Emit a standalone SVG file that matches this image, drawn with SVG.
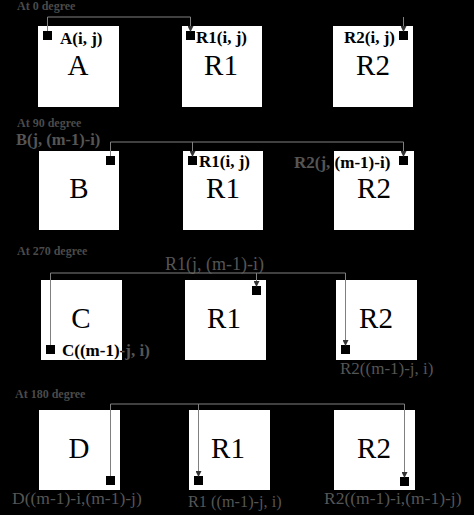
<svg xmlns="http://www.w3.org/2000/svg" width="474" height="515" viewBox="0 0 474 515">
<style>
.box{fill:#fff;stroke:none}
.sq{fill:#000}
.big{font-family:"Liberation Serif",serif;font-size:29px;fill:#000;text-anchor:middle}
.in{font-family:"Liberation Serif",serif;font-size:17px;font-weight:bold;fill:#000}
.out{font-family:"Liberation Serif",serif;font-size:17px;fill:#555}
.outb{font-family:"Liberation Serif",serif;font-size:16.5px;font-weight:bold;fill:#555}
.deg{font-family:"Liberation Serif",serif;font-size:12px;font-weight:bold;fill:#4a4a4a}
.con{fill:none;stroke:#808080;stroke-width:1}
</style>
<defs>
<marker id="arr" markerUnits="userSpaceOnUse" markerWidth="6" markerHeight="6" refX="5" refY="3" orient="auto">
<path d="M0,0 L6,3 L0,6 z" fill="#333"/>
</marker>
<linearGradient id="gR2" gradientUnits="userSpaceOnUse" x1="0" y1="0" x2="474" y2="0">
<stop offset="0.7046" stop-color="#555"/><stop offset="0.7046" stop-color="#000"/>
</linearGradient>
<linearGradient id="gC" gradientUnits="userSpaceOnUse" x1="0" y1="0" x2="474" y2="0">
<stop offset="0.2574" stop-color="#000"/><stop offset="0.2574" stop-color="#555"/>
</linearGradient>
</defs>
<rect x="0" y="0" width="474" height="515" fill="#000"/>

<text class="deg" x="17" y="10">At 0 degree</text>
<text class="deg" x="17" y="127">At 90 degree</text>
<text class="deg" x="17" y="255">At 270 degree</text>
<text class="deg" x="15" y="398">At 180 degree</text>

<!-- Row 1 -->
<g id="nodeA">
<rect class="box" x="38" y="26" width="81" height="81"/>
<rect class="sq" x="43" y="31" width="9" height="9"/>
<text class="in" x="60" y="44">A(i, j)</text>
<text class="big" x="78" y="75">A</text>
</g>
<g id="nodeR1a">
<rect class="box" x="182" y="26" width="80" height="81"/>
<rect class="sq" x="186" y="31" width="9" height="9"/>
<text class="in" x="196" y="43">R1(i, j)</text>
<text class="big" x="221" y="75">R1</text>
</g>
<g id="nodeR2a">
<rect class="box" x="333" y="26" width="80" height="81"/>
<rect class="sq" x="399" y="31" width="9" height="9"/>
<text class="in" x="344" y="43">R2(i, j)</text>
<text class="big" x="373" y="75">R2</text>
</g>

<!-- Row 2 -->
<g id="nodeB">
<text class="outb" x="16" y="145">B(j, (m-1)-i)</text>
<rect class="box" x="39" y="151" width="80" height="79"/>
<rect class="sq" x="106" y="156" width="9" height="9"/>
<text class="big" x="79" y="198">B</text>
</g>
<g id="nodeR1b">
<rect class="box" x="183" y="151" width="80" height="79"/>
<rect class="sq" x="188" y="156" width="9" height="9"/>
<text class="in" x="199" y="167">R1(i, j)</text>
<text class="big" x="223" y="198">R1</text>
</g>
<g id="nodeR2b">
<rect class="box" x="334" y="151" width="80" height="79"/>
<rect class="sq" x="399" y="156" width="9" height="9"/>
<text class="in" x="294" y="168" style="fill:url(#gR2)">R2(j, (m-1)-i)</text>
<text class="big" x="374" y="198">R2</text>
</g>

<!-- Row 3 -->
<g id="nodeC">
<rect class="box" x="41" y="280" width="81" height="80"/>
<rect class="sq" x="46" y="345" width="9" height="9"/>
<text class="in" x="62" y="356" style="fill:url(#gC)">C((m-1)-j, i)</text>
<text class="big" x="81" y="328">C</text>
</g>
<g id="nodeR1c">
<text class="out" x="165" y="270" style="font-size:18px">R1(j, (m-1)-i)</text>
<rect class="box" x="185" y="280" width="81" height="80"/>
<rect class="sq" x="252" y="286" width="9" height="9"/>
<text class="big" x="224" y="328">R1</text>
</g>
<g id="nodeR2c">
<rect class="box" x="336" y="280" width="81" height="80"/>
<rect class="sq" x="341" y="345" width="9" height="9"/>
<text class="out" x="340" y="374">R2((m-1)-j, i)</text>
<text class="big" x="376" y="328">R2</text>
</g>

<!-- Row 4 -->
<g id="nodeD">
<rect class="box" x="39" y="410" width="81" height="80"/>
<rect class="sq" x="106" y="476" width="9" height="9"/>
<text class="big" x="79" y="458">D</text>
<text class="out" x="12" y="504" style="font-size:17.5px">D((m-1)-i,(m-1)-j)</text>
</g>
<g id="nodeR1d">
<rect class="box" x="189" y="410" width="81" height="80"/>
<rect class="sq" x="194" y="476" width="9" height="9"/>
<text class="big" x="228" y="458">R1</text>
<text class="out" x="188" y="507" style="font-size:16.3px">R1 ((m-1)-j, i)</text>
</g>
<g id="nodeR2d">
<rect class="box" x="334" y="410" width="81" height="80"/>
<rect class="sq" x="400" y="477" width="9" height="9"/>
<text class="big" x="374" y="458">R2</text>
<text class="out" x="324" y="504" style="font-size:17.5px">R2((m-1)-i,(m-1)-j)</text>
</g>

<g id="connectors">
<path class="con" d="M47.5,31 V17 H190.5 V31" marker-end="url(#arr)"/>
<path class="con" d="M403.5,17 V31" marker-end="url(#arr)"/>
<path class="con" d="M110.5,156 V142 H403.5 V156" marker-end="url(#arr)"/>
<path class="con" d="M192.5,142 V156" marker-end="url(#arr)"/>
<path class="con" d="M50.5,345 V273 H345.5 V345" marker-end="url(#arr)"/>
<path class="con" d="M256.5,273 V286" marker-end="url(#arr)"/>
<path class="con" d="M110.5,476 V404 H404.5 V477" marker-end="url(#arr)"/>
<path class="con" d="M198.5,404 V476" marker-end="url(#arr)"/>
</g>
</svg>
